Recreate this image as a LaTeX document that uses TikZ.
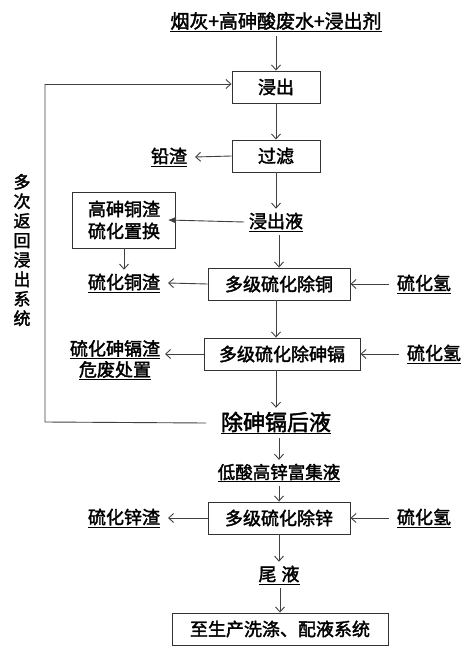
\documentclass[tikz,border=0pt]{standalone}
\usepackage{fontspec}
\setmainfont{Noto Sans CJK SC}[FakeBold=2]
\usetikzlibrary{arrows.meta}
\begin{document}
\begin{tikzpicture}[x=1pt,y=-1pt,
  box/.style={draw=black!80, line width=0.9pt, minimum height=32pt, inner sep=0pt, font=\fontsize{18}{22}\selectfont},
  lab/.style={inner sep=0pt, outer xsep=8pt, outer ysep=4pt, font=\fontsize{18}{22}\selectfont},
  arr/.style={draw=black!75, line width=0.9pt, -{Straight Barb[length=5pt,width=9pt]}},
  farr/.style={draw=black!75, line width=0.9pt, -{Latex[length=8pt,width=7pt]}},
  ln/.style={draw=black!75, line width=0.9pt},
]
\useasboundingbox[fill=white] (0,0) rectangle (474,650);

\node[lab, font=\fontsize{19}{22}\selectfont] (top) at (276,22) {\underline{烟灰+高砷酸废水+浸出剂}};
\node[box, minimum width=88pt] (leach) at (276,87) {浸出};
\node[box, minimum width=88pt] (filt) at (276,156) {过滤};
\node[lab] (pb) at (169,157) {\underline{铅渣}};
\node[lab, outer xsep=5pt] (liq) at (276,222) {\underline{浸出液}};
\node[box, minimum width=103pt, minimum height=56pt, align=center, font=\fontsize{18}{22}\selectfont] (hcu) at (124,220) {高砷铜渣\\硫化置换};
\node[lab] (cus) at (124,283) {\underline{硫化铜渣}};
\node[box, minimum width=142pt] (cu) at (279,284) {多级硫化除铜};
\node[lab] (h1) at (424,284) {\underline{硫化氢}};
\node[box, minimum width=156pt] (as) at (282,354) {多级硫化除砷镉};
\node[lab, outer xsep=5pt, align=center, font=\fontsize{18}{21}\selectfont] (asr) at (115,360) {\underline{硫化砷镉渣}\\\underline{危废处置}};
\node[lab] (h2) at (434,354) {\underline{硫化氢}};
\node[lab, outer xsep=15pt, font=\fontsize{22}{24}\selectfont] (after) at (276,423) {\underline{除砷镉后液}};
\node[lab, font=\fontsize{17.5}{20}\selectfont] (low) at (279,473) {\underline{低酸高锌富集液}};
\node[box, minimum width=142pt] (zn) at (279,518) {多级硫化除锌};
\node[lab] (zns) at (124,518) {\underline{硫化锌渣}};
\node[lab] (h3) at (424,518) {\underline{硫化氢}};
\node[lab] (tail) at (279,575) {\underline{尾\hspace{5pt}液}};
\node[box, minimum width=216pt] (fin) at (280,629) {至生产洗涤、配液系统};
\node[lab, align=center, font=\fontsize{17}{19.5}\selectfont] (ret) at (22,250) {多\\次\\返\\回\\浸\\出\\系\\统};

\coordinate (fbT) at (45,84);
\coordinate (fbB) at (45,422);

\draw[arr] (top.south -| leach.north) -- (leach.north);
\draw[arr] (leach) -- (filt);
\draw[arr] (filt.west) -- (pb.east);
\draw[arr] (filt) -- (liq);
\draw[farr] (liq.west) -- ([xshift=-8pt]hcu.east);
\draw[arr] (hcu.south) -- (cus.north -| hcu.south);
\draw[arr] (liq.south -| cu.north) -- (cu.north);
\draw[arr] (cu.west) -- (cus.east);
\draw[arr] (h1.west) -- (cu.east);
\draw[arr] (cu.south -| leach.south) -- (as.north -| leach.south);
\draw[arr] (as.west) -- (as.west -| asr.east);
\draw[arr] (h2.west) -- (as.east);
\draw[arr] (as.south -| leach.south) -- (after.north -| leach.south);
\draw[ln] (after.west) -- (fbB) -- (fbT);
\draw[arr] (fbT) -- (fbT -| leach.west);
\draw[arr] (after.south -| low.north) -- (low.north);
\draw[arr] (low.south) -- (zn.north);
\draw[arr] (zn.west) -- (zns.east);
\draw[arr] (h3.west) -- (zn.east);
\draw[arr] (zn.south) -- (tail.north);
\draw[arr] (tail.south -| fin.north) -- (fin.north);
\end{tikzpicture}
\end{document}
